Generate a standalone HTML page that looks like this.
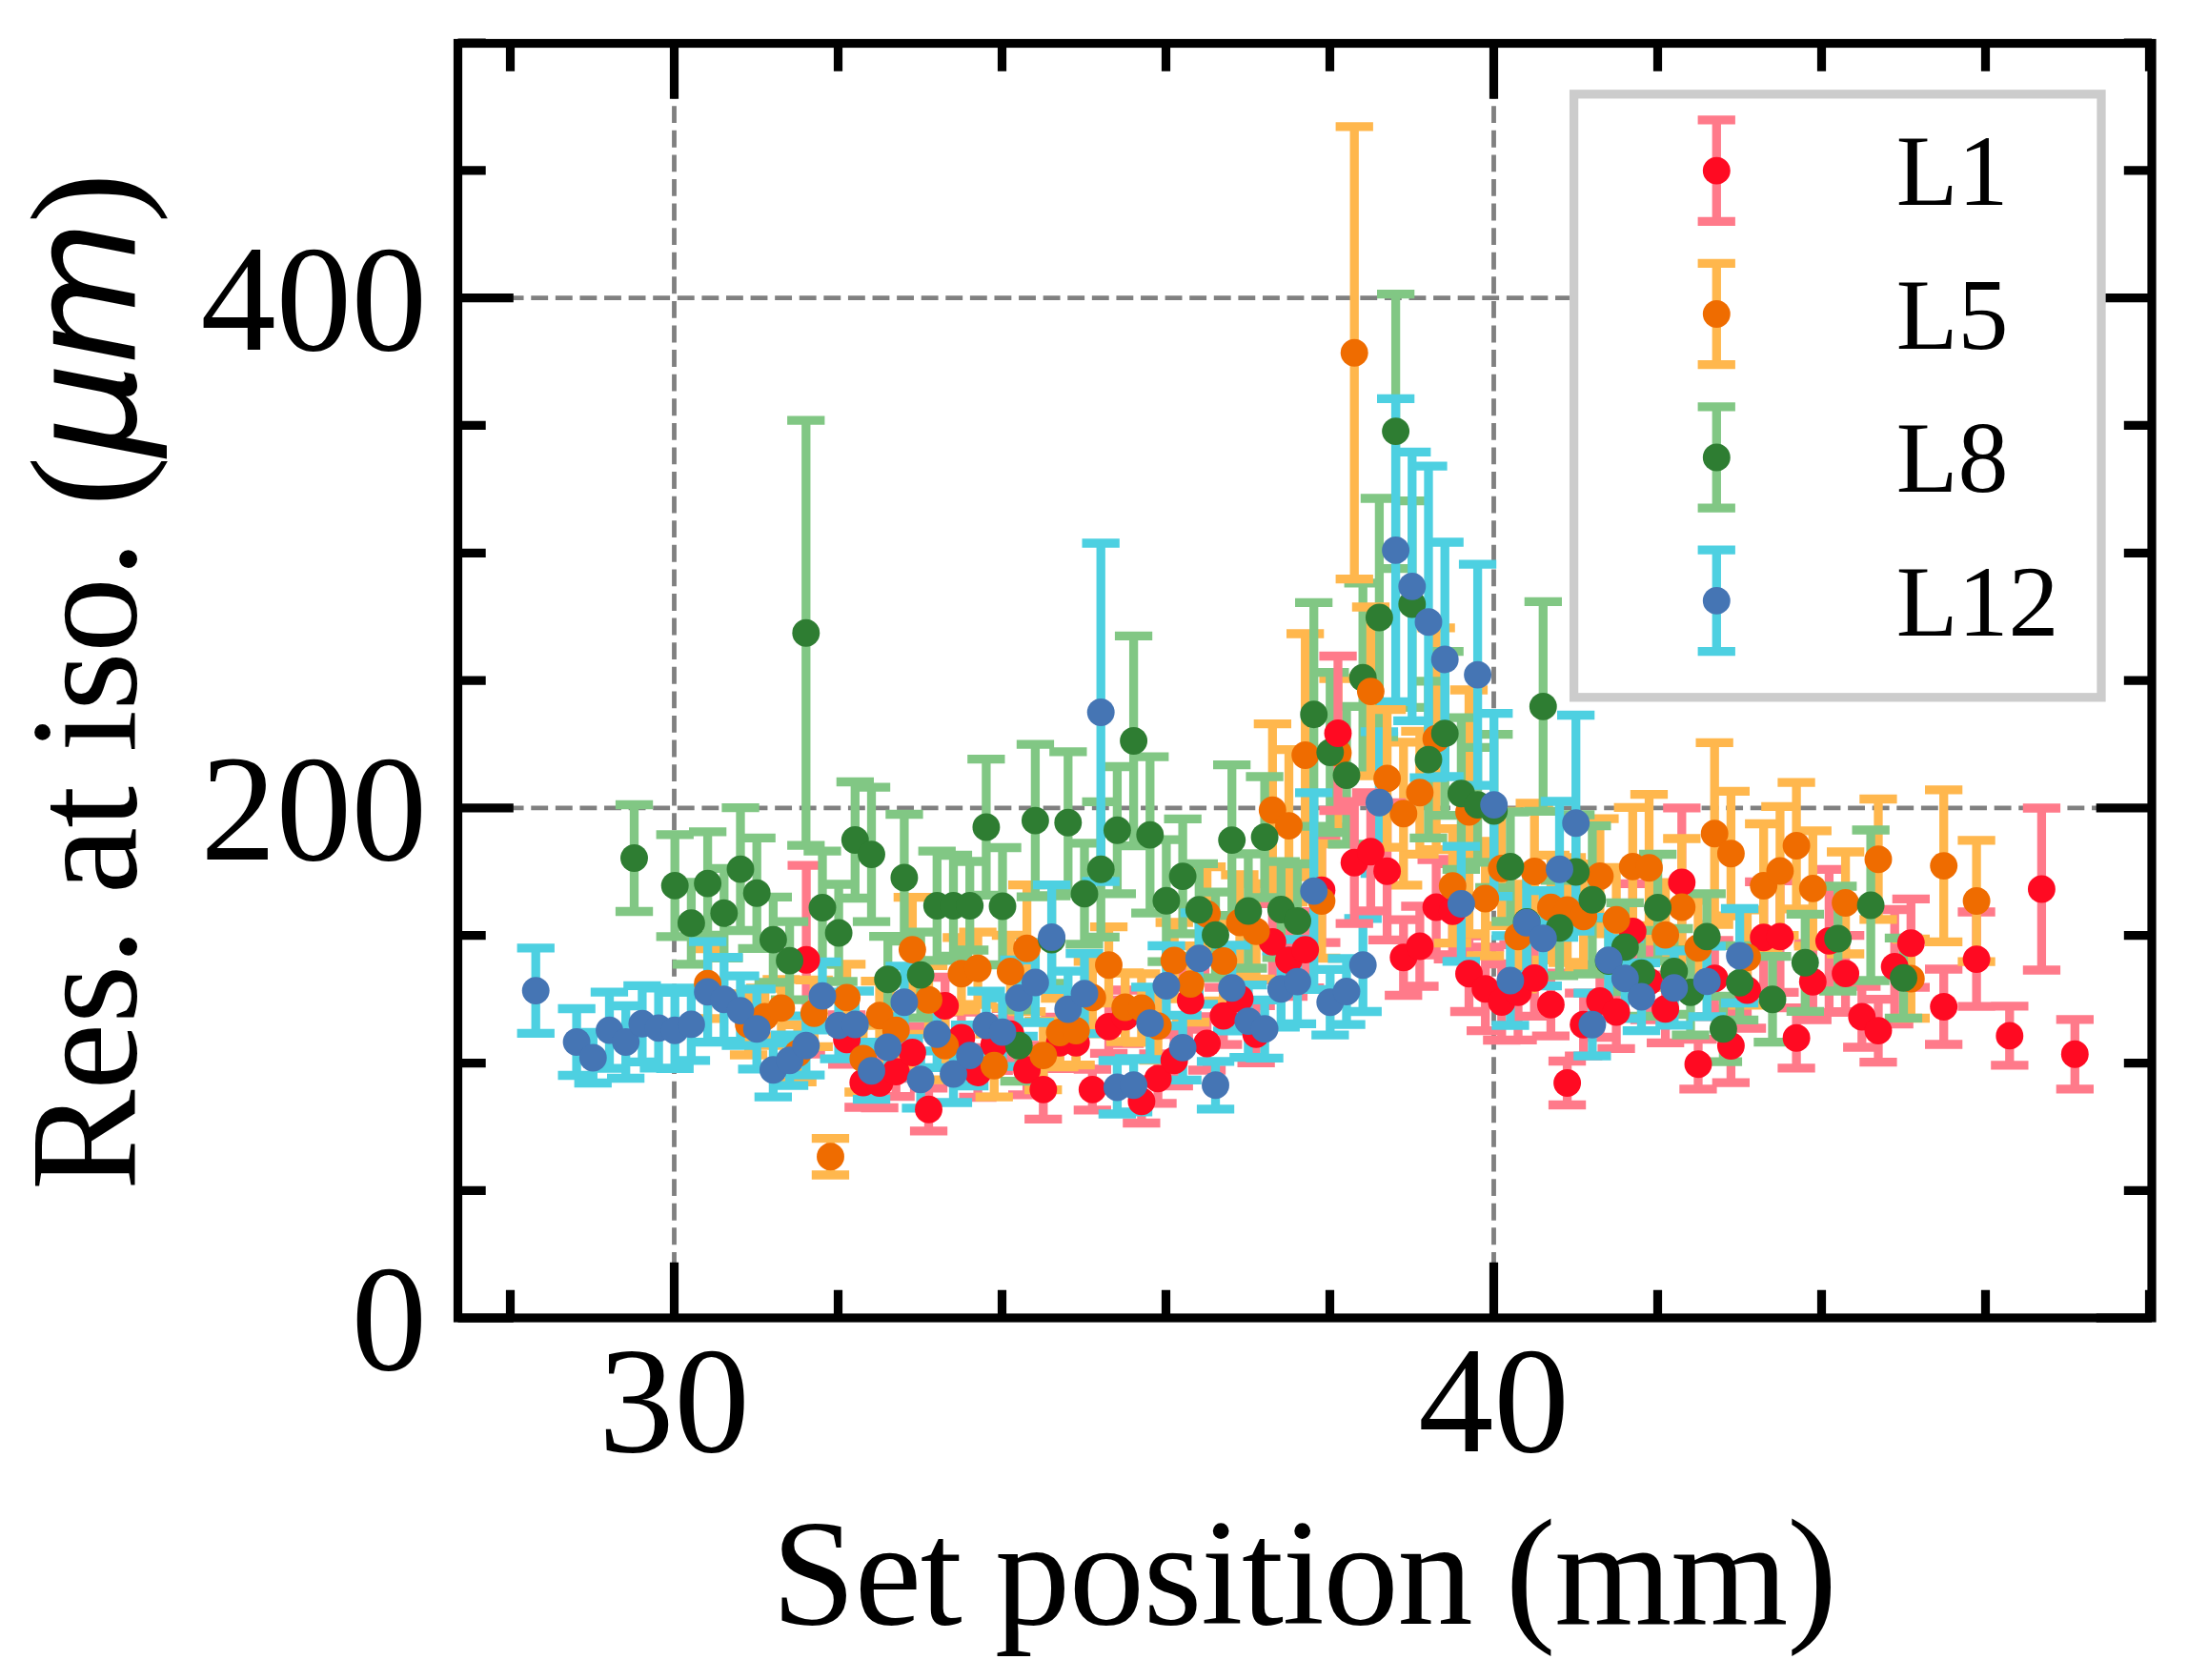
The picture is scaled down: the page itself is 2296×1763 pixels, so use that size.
<!DOCTYPE html>
<html lang="en"><head><meta charset="utf-8"><title>Res. at iso. vs Set position</title>
<style>html,body{margin:0;padding:0;background:#fff}body{width:2296px;height:1763px;overflow:hidden}svg{display:block}text{font-family:"Liberation Serif", "Times New Roman", Times, serif;fill:#000}.mu{font-family:"DejaVu Sans", "Liberation Sans", sans-serif;font-style:italic}</style></head><body>
<svg width="2296" height="1763" viewBox="0 0 2296 1763">
<rect width="2296" height="1763" fill="#fff"/>
<g stroke="#808080" stroke-width="4.83" stroke-dasharray="17.87 7.72" fill="none">
<path d="M707.5 1383V45.5"/>
<path d="M1567.5 1383V45.5"/>
<path d="M480.5 847.9H2258"/>
<path d="M480.5 312.6H2258"/>
</g>
<g stroke="#000" stroke-width="9.2" fill="none">
<path d="M535.5 1383v-29.2M535.5 45.5v29.2M707.5 1383v-58.3M707.5 45.5v58.3M879.5 1383v-29.2M879.5 45.5v29.2M1051.5 1383v-29.2M1051.5 45.5v29.2M1223.5 1383v-29.2M1223.5 45.5v29.2M1395.5 1383v-29.2M1395.5 45.5v29.2M1567.5 1383v-58.3M1567.5 45.5v58.3M1739.5 1383v-29.2M1739.5 45.5v29.2M1911.5 1383v-29.2M1911.5 45.5v29.2M2083.5 1383v-29.2M2083.5 45.5v29.2M2255.5 1383v-29.2M2255.5 45.5v29.2M480.5 1383.2h58.3M2258 1383.2h-58.3M480.5 1249.4h29.2M2258 1249.4h-29.2M480.5 1115.6h29.2M2258 1115.6h-29.2M480.5 981.7h29.2M2258 981.7h-29.2M480.5 847.9h58.3M2258 847.9h-58.3M480.5 714.1h29.2M2258 714.1h-29.2M480.5 580.3h29.2M2258 580.3h-29.2M480.5 446.4h29.2M2258 446.4h-29.2M480.5 312.6h58.3M2258 312.6h-58.3M480.5 178.8h29.2M2258 178.8h-29.2M480.5 45h29.2M2258 45h-29.2"/>
</g>
<path id="eb-L1" d="M846.1 908.2V1106.2M826.5 908.2h39.3M826.5 1106.2h39.3M888.6 1064.8V1116.8M869 1064.8h39.3M869 1116.8h39.3M905.8 1110V1162M886.2 1110h39.3M886.2 1162h39.3M923 1110.5V1162.5M903.4 1110.5h39.3M903.4 1162.5h39.3M940.2 1098.6V1150.6M920.5 1098.6h39.3M920.5 1150.6h39.3M957.4 1077.5V1131.5M937.7 1077.5h39.3M937.7 1131.5h39.3M974.5 1141.8V1186.8M954.9 1141.8h39.3M954.9 1186.8h39.3M991.7 1025.5V1085.5M972.1 1025.5h39.3M972.1 1085.5h39.3M1008.9 1062V1116M989.2 1062h39.3M989.2 1116h39.3M1026.1 1099.5V1151.5M1006.4 1099.5h39.3M1006.4 1151.5h39.3M1043.3 1069.3V1123.3M1023.6 1069.3h39.3M1023.6 1123.3h39.3M1060.4 1058.3V1112.3M1040.8 1058.3h39.3M1040.8 1112.3h39.3M1077.6 1096.8V1148.8M1058 1096.8h39.3M1058 1148.8h39.3M1094.8 1112.4V1174.4M1075.1 1112.4h39.3M1075.1 1174.4h39.3M1112 1067.4V1121.4M1092.3 1067.4h39.3M1092.3 1121.4h39.3M1129.2 1067.4V1121.4M1109.5 1067.4h39.3M1109.5 1121.4h39.3M1146.3 1122V1164.8M1126.7 1122h39.3M1126.7 1164.8h39.3M1163.5 1049.4V1105.4M1143.9 1049.4h39.3M1143.9 1105.4h39.3M1180.7 1039V1095M1161 1039h39.3M1161 1095h39.3M1197.9 1132.9V1178.5M1178.2 1132.9h39.3M1178.2 1178.5h39.3M1215.1 1105.9V1157.9M1195.4 1105.9h39.3M1195.4 1157.9h39.3M1232.2 1085.7V1139.7M1212.6 1085.7h39.3M1212.6 1139.7h39.3M1249.4 1020V1080M1229.8 1020h39.3M1229.8 1080h39.3M1266.6 1067V1123M1246.9 1067h39.3M1246.9 1123h39.3M1283.8 1036.1V1096.1M1264.1 1036.1h39.3M1264.1 1096.1h39.3M1301 1016V1080M1281.3 1016h39.3M1281.3 1080h39.3M1318.1 1055.3V1115.3M1298.5 1055.3h39.3M1298.5 1115.3h39.3M1335.3 948.4V1028.4M1315.7 948.4h39.3M1315.7 1028.4h39.3M1352.5 969.6V1045.6M1332.8 969.6h39.3M1332.8 1045.6h39.3M1369.7 956.6V1036.6M1350 956.6h39.3M1350 1036.6h39.3M1386.9 879.2V989.2M1367.2 879.2h39.3M1367.2 989.2h39.3M1472.8 965.1V1044.5M1453.1 965.1h39.3M1453.1 1044.5h39.3M1489.9 951V1035M1470.3 951h39.3M1470.3 1035h39.3M1507.1 902V1002M1487.5 902h39.3M1487.5 1002h39.3M1524.3 906.4V1006.4M1504.6 906.4h39.3M1504.6 1006.4h39.3M1541.5 982.1V1061.5M1521.8 982.1h39.3M1521.8 1061.5h39.3M1558.7 994V1081.6M1539 994h39.3M1539 1081.6h39.3M1575.8 1011.5V1091.5M1556.2 1011.5h39.3M1556.2 1091.5h39.3M1593 991.4V1091.4M1573.4 991.4h39.3M1573.4 1091.4h39.3M1610.2 986.4V1066.4M1590.5 986.4h39.3M1590.5 1066.4h39.3M1627.4 1021.2V1087.2M1607.7 1021.2h39.3M1607.7 1087.2h39.3M1644.6 1113.5V1159.5M1624.9 1113.5h39.3M1624.9 1159.5h39.3M1661.7 1042.2V1108.2M1642.1 1042.2h39.3M1642.1 1108.2h39.3M1678.9 1012.5V1088.5M1659.3 1012.5h39.3M1659.3 1088.5h39.3M1696.1 1023.6V1100.4M1676.4 1023.6h39.3M1676.4 1100.4h39.3M1713.3 927.4V1027.4M1693.6 927.4h39.3M1693.6 1027.4h39.3M1730.5 990V1070M1710.8 990h39.3M1710.8 1070h39.3M1747.6 1023.2V1094.4M1728 1023.2h39.3M1728 1094.4h39.3M1764.8 847.9V1003.9M1745.2 847.9h39.3M1745.2 1003.9h39.3M1782 1090.6V1142.8M1762.3 1090.6h39.3M1762.3 1142.8h39.3M1799.2 986.8V1066.8M1779.5 986.8h39.3M1779.5 1066.8h39.3M1816.4 1058.9V1136.1M1796.7 1058.9h39.3M1796.7 1136.1h39.3M1833.5 999V1079M1813.9 999h39.3M1813.9 1079h39.3M1850.7 925.3V1042.3M1831.1 925.3h39.3M1831.1 1042.3h39.3M1867.9 924.4V1041.4M1848.2 924.4h39.3M1848.2 1041.4h39.3M1885.1 1057.7V1120.9M1865.4 1057.7h39.3M1865.4 1120.9h39.3M1902.3 990.2V1070.2M1882.6 990.2h39.3M1882.6 1070.2h39.3M1919.4 912.4V1062.4M1899.8 912.4h39.3M1899.8 1062.4h39.3M1936.6 981.6V1061.6M1917 981.6h39.3M1917 1061.6h39.3M1953.8 1035V1099M1934.1 1035h39.3M1934.1 1099h39.3M1971 1048.6V1114.6M1951.3 1048.6h39.3M1951.3 1114.6h39.3M1988.2 954.5V1074.5M1968.5 954.5h39.3M1968.5 1074.5h39.3M2005.3 943.3V1036.1M1985.7 943.3h39.3M1985.7 1036.1h39.3M2039.7 1017V1096M2020 1017h39.3M2020 1096h39.3M2074.1 957V1056.2M2054.4 957h39.3M2054.4 1056.2h39.3M2108.8 1055.9V1117.9M2089.2 1055.9h39.3M2089.2 1117.9h39.3M2142.4 848V1018M2122.8 848h39.3M2122.8 1018h39.3M2177.3 1069.8V1142.8M2157.7 1069.8h39.3M2157.7 1142.8h39.3" stroke="#ff7a8a" stroke-width="9.3" fill="none"/>
<path id="eb-L5" d="M742.6 995.7V1068.9M723 995.7h39.3M723 1068.9h39.3M785.6 1043V1107M765.9 1043h39.3M765.9 1107h39.3M802.7 1037V1097M783.1 1037h39.3M783.1 1097h39.3M819.9 1027.9V1087.9M800.3 1027.9h39.3M800.3 1087.9h39.3M837.1 1075.4V1135.4M817.5 1075.4h39.3M817.5 1135.4h39.3M854.3 1028.3V1098.3M834.6 1028.3h39.3M834.6 1098.3h39.3M871.5 1194.6V1233M851.8 1194.6h39.3M851.8 1233h39.3M888.6 1011.9V1081.9M869 1011.9h39.3M869 1081.9h39.3M905.8 1076V1146M886.2 1076h39.3M886.2 1146h39.3M923 1029.7V1101.7M903.4 1029.7h39.3M903.4 1101.7h39.3M940.2 1045.1V1117.1M920.5 1045.1h39.3M920.5 1117.1h39.3M957.4 941.6V1051.6M937.7 941.6h39.3M937.7 1051.6h39.3M974.5 1013.3V1085.3M954.9 1013.3h39.3M954.9 1085.3h39.3M991.7 1061.2V1133.2M972.1 1061.2h39.3M972.1 1133.2h39.3M1008.9 983.8V1059.8M989.2 983.8h39.3M989.2 1059.8h39.3M1026.1 978.2V1054.2M1006.4 978.2h39.3M1006.4 1054.2h39.3M1043.3 1085.2V1151.2M1023.6 1085.2h39.3M1023.6 1151.2h39.3M1060.4 981.5V1057.5M1040.8 981.5h39.3M1040.8 1057.5h39.3M1077.6 928.7V1061.7M1058 928.7h39.3M1058 1061.7h39.3M1094.8 1071.6V1143.6M1075.1 1071.6h39.3M1075.1 1143.6h39.3M1112 1047.5V1119.5M1092.3 1047.5h39.3M1092.3 1119.5h39.3M1129.2 1045.6V1117.6M1109.5 1045.6h39.3M1109.5 1117.6h39.3M1146.3 1008.9V1084.9M1126.7 1008.9h39.3M1126.7 1084.9h39.3M1163.5 972.7V1052.7M1143.9 972.7h39.3M1143.9 1052.7h39.3M1180.7 1021V1093M1161 1021h39.3M1161 1093h39.3M1197.9 1021.9V1093.9M1178.2 1021.9h39.3M1178.2 1093.9h39.3M1215.1 1040.7V1112.7M1195.4 1040.7h39.3M1195.4 1112.7h39.3M1232.2 968V1048M1212.6 968h39.3M1212.6 1048h39.3M1249.4 992.6V1072.6M1229.8 992.6h39.3M1229.8 1072.6h39.3M1266.6 909.6V1008.6M1246.9 909.6h39.3M1246.9 1008.6h39.3M1283.8 966.5V1050.5M1264.1 966.5h39.3M1264.1 1050.5h39.3M1301 918V1018M1281.3 918h39.3M1281.3 1018h39.3M1318.1 927.4V1027.4M1298.5 927.4h39.3M1298.5 1027.4h39.3M1335.3 759.6V940.6M1315.7 759.6h39.3M1315.7 940.6h39.3M1352.5 786.6V946.6M1332.8 786.6h39.3M1332.8 946.6h39.3M1369.7 665V920M1350 665h39.3M1350 920h39.3M1386.9 885.5V1005.5M1367.2 885.5h39.3M1367.2 1005.5h39.3M1404 712V868M1384.4 712h39.3M1384.4 868h39.3M1472.8 778.8V928.8M1453.1 778.8h39.3M1453.1 928.8h39.3M1489.9 767.3V896.3M1470.3 767.3h39.3M1470.3 896.3h39.3M1507.1 658.8V891.6M1487.5 658.8h39.3M1487.5 891.6h39.3M1524.3 869.7V989.7M1504.6 869.7h39.3M1504.6 989.7h39.3M1541.5 724V980M1521.8 724h39.3M1521.8 980h39.3M1558.7 883V1003M1539 883h39.3M1539 1003h39.3M1575.8 851.4V971.4M1556.2 851.4h39.3M1556.2 971.4h39.3M1593 927.9V1037.9M1573.4 927.9h39.3M1573.4 1037.9h39.3M1610.2 842.8V986.2M1590.5 842.8h39.3M1590.5 986.2h39.3M1627.4 897.3V1007.3M1607.7 897.3h39.3M1607.7 1007.3h39.3M1644.6 900V1010M1624.9 900h39.3M1624.9 1010h39.3M1661.7 906.7V1016.7M1642.1 906.7h39.3M1642.1 1016.7h39.3M1678.9 859.2V979.8M1659.3 859.2h39.3M1659.3 979.8h39.3M1696.1 910.3V1020.3M1676.4 910.3h39.3M1676.4 1020.3h39.3M1713.3 847.4V971.4M1693.6 847.4h39.3M1693.6 971.4h39.3M1730.5 833.7V987.7M1710.8 833.7h39.3M1710.8 987.7h39.3M1747.6 926.1V1036.1M1728 926.1h39.3M1728 1036.1h39.3M1764.8 880V1024M1745.2 880h39.3M1745.2 1024h39.3M1782 944.8V1044.8M1762.3 944.8h39.3M1762.3 1044.8h39.3M1799.2 779.3V970.1M1779.5 779.3h39.3M1779.5 970.1h39.3M1816.4 830.3V961.1M1796.7 830.3h39.3M1796.7 961.1h39.3M1833.5 954.8V1054.8M1813.9 954.8h39.3M1813.9 1054.8h39.3M1850.7 864.5V994.5M1831.1 864.5h39.3M1831.1 994.5h39.3M1867.9 846.4V981.6M1848.2 846.4h39.3M1848.2 981.6h39.3M1885.1 821.1V953.9M1865.4 821.1h39.3M1865.4 953.9h39.3M1902.3 871.9V992.9M1882.6 871.9h39.3M1882.6 992.9h39.3M1936.6 894V1001M1917 894h39.3M1917 1001h39.3M1971 838.5V964.9M1951.3 838.5h39.3M1951.3 964.9h39.3M2005.3 985.5V1068.5M1985.7 985.5h39.3M1985.7 1068.5h39.3M2039.7 828.8V988.4M2020 828.8h39.3M2020 988.4h39.3M2074.1 881.9V1009.1M2054.4 881.9h39.3M2054.4 1009.1h39.3" stroke="#ffb74d" stroke-width="9.3" fill="none"/>
<path id="eb-L8" d="M665.5 844.5V956.5M645.9 844.5h39.3M645.9 956.5h39.3M708.2 875.9V982.9M688.6 875.9h39.3M688.6 982.9h39.3M725.4 925.8V1011.8M705.8 925.8h39.3M705.8 1011.8h39.3M742.6 872.8V981.4M723 872.8h39.3M723 981.4h39.3M759.8 911.3V1005.3M740.2 911.3h39.3M740.2 1005.3h39.3M777 847.7V976.5M757.4 847.7h39.3M757.4 976.5h39.3M794.2 879.3V995.3M774.5 879.3h39.3M774.5 995.3h39.3M811.4 941.3V1030.9M791.7 941.3h39.3M791.7 1030.9h39.3M828.6 967.1V1049.1M808.9 967.1h39.3M808.9 1049.1h39.3M845.8 441.2V887.2M826.1 441.2h39.3M826.1 887.2h39.3M863 893.1V1011.9M843.3 893.1h39.3M843.3 1011.9h39.3M880.1 928V1030M860.5 928h39.3M860.5 1030h39.3M897.3 820.5V942.5M877.7 820.5h39.3M877.7 942.5h39.3M914.5 826.1V967.1M894.9 826.1h39.3M894.9 967.1h39.3M931.7 982.7V1072.7M912.1 982.7h39.3M912.1 1072.7h39.3M948.9 854.5V987.5M929.3 854.5h39.3M929.3 987.5h39.3M966.1 978.1V1068.1M946.4 978.1h39.3M946.4 1068.1h39.3M983.3 893.1V1007.9M963.6 893.1h39.3M963.6 1007.9h39.3M1000.5 897.5V1003.5M980.8 897.5h39.3M980.8 1003.5h39.3M1017.7 904V997M998 904h39.3M998 997h39.3M1034.9 796.7V939.3M1015.2 796.7h39.3M1015.2 939.3h39.3M1052 889.5V1012.5M1032.4 889.5h39.3M1032.4 1012.5h39.3M1069.2 1059.8V1134.6M1049.6 1059.8h39.3M1049.6 1134.6h39.3M1086.4 781.1V941.1M1066.8 781.1h39.3M1066.8 941.1h39.3M1103.6 940V1032M1084 940h39.3M1084 1032h39.3M1120.8 788.9V937.7M1101.2 788.9h39.3M1101.2 937.7h39.3M1138 884.9V990.9M1118.3 884.9h39.3M1118.3 990.9h39.3M1155.2 841.3V983.3M1135.5 841.3h39.3M1135.5 983.3h39.3M1172.4 804.5V937.9M1152.7 804.5h39.3M1152.7 937.9h39.3M1189.6 667.3V887.7M1169.9 667.3h39.3M1169.9 887.7h39.3M1206.8 794.1V958.1M1187.1 794.1h39.3M1187.1 958.1h39.3M1223.9 881.2V1009.2M1204.3 881.2h39.3M1204.3 1009.2h39.3M1241.1 859.3V979.9M1221.5 859.3h39.3M1221.5 979.9h39.3M1258.3 906.3V1003.3M1238.7 906.3h39.3M1238.7 1003.3h39.3M1275.5 936.1V1026.1M1255.9 936.1h39.3M1255.9 1026.1h39.3M1292.7 802.6V960.6M1273 802.6h39.3M1273 960.6h39.3M1309.9 896V1016M1290.2 896h39.3M1290.2 1016h39.3M1327.1 815V942M1307.4 815h39.3M1307.4 942h39.3M1344.3 904.1V1004.9M1324.6 904.1h39.3M1324.6 1004.9h39.3M1361.5 906.5V1026.5M1341.8 906.5h39.3M1341.8 1026.5h39.3M1378.7 632.3V867.1M1359 632.3h39.3M1359 867.1h39.3M1395.8 705.6V873.6M1376.2 705.6h39.3M1376.2 873.6h39.3M1413 741.3V885.9M1393.4 741.3h39.3M1393.4 885.9h39.3M1430.2 611.9V810.5M1410.6 611.9h39.3M1410.6 810.5h39.3M1447.4 523V773M1427.8 523h39.3M1427.8 773h39.3M1464.6 308.6V596.6M1445 308.6h39.3M1445 596.6h39.3M1481.8 525.6V742.4M1462.1 525.6h39.3M1462.1 742.4h39.3M1499 714.8V879.4M1479.3 714.8h39.3M1479.3 879.4h39.3M1516.2 683.7V855.7M1496.5 683.7h39.3M1496.5 855.7h39.3M1533.4 753.2V912.4M1513.7 753.2h39.3M1513.7 912.4h39.3M1550.6 784.3V904.9M1530.9 784.3h39.3M1530.9 904.9h39.3M1567.7 770.6V931.4M1548.1 770.6h39.3M1548.1 931.4h39.3M1584.9 852V967M1565.3 852h39.3M1565.3 967h39.3M1602.1 912.5V1022.5M1582.5 912.5h39.3M1582.5 1022.5h39.3M1619.3 631.4V851.4M1599.7 631.4h39.3M1599.7 851.4h39.3M1636.5 923.8V1023.8M1616.8 923.8h39.3M1616.8 1023.8h39.3M1653.7 855V975M1634 855h39.3M1634 975h39.3M1670.9 866.6V1022M1651.2 866.6h39.3M1651.2 1022h39.3M1688.1 963.5V1053.5M1668.4 963.5h39.3M1668.4 1053.5h39.3M1705.3 947.3V1040.5M1685.6 947.3h39.3M1685.6 1040.5h39.3M1722.5 976.3V1066.3M1702.8 976.3h39.3M1702.8 1066.3h39.3M1739.6 896.5V1008.5M1720 896.5h39.3M1720 1008.5h39.3M1756.8 974.5V1064.5M1737.2 974.5h39.3M1737.2 1064.5h39.3M1774 996.6V1086.2M1754.4 996.6h39.3M1754.4 1086.2h39.3M1791.2 937.9V1027.9M1771.6 937.9h39.3M1771.6 1027.9h39.3M1808.4 1045.4V1114.2M1788.8 1045.4h39.3M1788.8 1114.2h39.3M1825.6 992.4V1070.4M1805.9 992.4h39.3M1805.9 1070.4h39.3M1860 1003.7V1093.7M1840.3 1003.7h39.3M1840.3 1093.7h39.3M1894.3 959.3V1061.3M1874.7 959.3h39.3M1874.7 1061.3h39.3M1928.7 930V1040M1909.1 930h39.3M1909.1 1040h39.3M1963.1 871V1029M1943.5 871h39.3M1943.5 1029h39.3M1997.5 984.3V1068.3M1977.8 984.3h39.3M1977.8 1068.3h39.3" stroke="#81c784" stroke-width="9.3" fill="none"/>
<path id="eb-L12" d="M562.2 994.9V1084.3M542.6 994.9h39.3M542.6 1084.3h39.3M605.1 1058.5V1128.5M585.5 1058.5h39.3M585.5 1128.5h39.3M622.3 1083.5V1136.5M602.6 1083.5h39.3M602.6 1136.5h39.3M639.5 1041.1V1121.1M619.8 1041.1h39.3M619.8 1121.1h39.3M656.7 1055.5V1131.5M637 1055.5h39.3M637 1131.5h39.3M673.9 1034.3V1114.3M654.2 1034.3h39.3M654.2 1114.3h39.3M691.1 1036.9V1120.9M671.4 1036.9h39.3M671.4 1120.9h39.3M708.2 1041.3V1121.3M688.6 1041.3h39.3M688.6 1121.3h39.3M725.4 1036.9V1112.9M705.8 1036.9h39.3M705.8 1112.9h39.3M742.6 988.1V1093.7M723 988.1h39.3M723 1093.7h39.3M759.8 1004.7V1092.7M740.2 1004.7h39.3M740.2 1092.7h39.3M777 1024.1V1097.1M757.4 1024.1h39.3M757.4 1097.1h39.3M794.2 1037.8V1121.8M774.5 1037.8h39.3M774.5 1121.8h39.3M811.4 1094.5V1151.1M791.7 1094.5h39.3M791.7 1151.1h39.3M828.6 1086.2V1139.2M808.9 1086.2h39.3M808.9 1139.2h39.3M845.8 1066.2V1128.2M826.1 1066.2h39.3M826.1 1128.2h39.3M863 1009.4V1080.8M843.3 1009.4h39.3M843.3 1080.8h39.3M880.1 1041.1V1111.1M860.5 1041.1h39.3M860.5 1111.1h39.3M897.3 1040V1110M877.7 1040h39.3M877.7 1110h39.3M914.5 1093.7V1153.7M894.9 1093.7h39.3M894.9 1153.7h39.3M931.7 1067V1131M912.1 1067h39.3M912.1 1131h39.3M948.9 1013.8V1089.8M929.3 1013.8h39.3M929.3 1089.8h39.3M966.1 1102.8V1162.8M946.4 1102.8h39.3M946.4 1162.8h39.3M983.3 1050.3V1120.3M963.6 1050.3h39.3M963.6 1120.3h39.3M1000.5 1097V1157M980.8 1097h39.3M980.8 1157h39.3M1017.7 1075.6V1139.6M998 1075.6h39.3M998 1139.6h39.3M1034.9 1040.1V1112.1M1015.2 1040.1h39.3M1015.2 1112.1h39.3M1052 1047.1V1119.1M1032.4 1047.1h39.3M1032.4 1119.1h39.3M1069.2 1007.4V1087.4M1049.6 1007.4h39.3M1049.6 1087.4h39.3M1086.4 989V1073M1066.8 989h39.3M1066.8 1073h39.3M1103.6 928.7V1038.3M1084 928.7h39.3M1084 1038.3h39.3M1120.8 1019.1V1099.1M1101.2 1019.1h39.3M1101.2 1099.1h39.3M1138 1000.7V1084.7M1118.3 1000.7h39.3M1118.3 1084.7h39.3M1155.2 570V925M1135.5 570h39.3M1135.5 925h39.3M1172.4 1113V1169M1152.7 1113h39.3M1152.7 1169h39.3M1189.6 1110.8V1166.8M1169.9 1110.8h39.3M1169.9 1166.8h39.3M1206.8 1035.8V1111.8M1187.1 1035.8h39.3M1187.1 1111.8h39.3M1223.9 992.5V1076.5M1204.3 992.5h39.3M1204.3 1076.5h39.3M1241.1 1065.4V1133.4M1221.5 1065.4h39.3M1221.5 1133.4h39.3M1258.3 957.8V1053.8M1238.7 957.8h39.3M1238.7 1053.8h39.3M1275.5 1113.8V1163.8M1255.9 1113.8h39.3M1255.9 1163.8h39.3M1292.7 991.8V1081.8M1273 991.8h39.3M1273 1081.8h39.3M1309.9 1033.6V1109.6M1290.2 1033.6h39.3M1290.2 1109.6h39.3M1327.1 1049.3V1110.3M1307.4 1049.3h39.3M1307.4 1110.3h39.3M1344.3 997.8V1077.8M1324.6 997.8h39.3M1324.6 1077.8h39.3M1361.5 985.9V1074.3M1341.8 985.9h39.3M1341.8 1074.3h39.3M1378.7 831.8V1038.4M1359 831.8h39.3M1359 1038.4h39.3M1395.8 1017.4V1086.2M1376.2 1017.4h39.3M1376.2 1086.2h39.3M1413 1005.8V1075.2M1393.4 1005.8h39.3M1393.4 1075.2h39.3M1430.2 963.9V1061.5M1410.6 963.9h39.3M1410.6 1061.5h39.3M1447.4 767.9V916.7M1427.8 767.9h39.3M1427.8 916.7h39.3M1464.6 418.4V736.4M1445 418.4h39.3M1445 736.4h39.3M1481.8 474.4V756.4M1462.1 474.4h39.3M1462.1 756.4h39.3M1499 489.2V816.2M1479.3 489.2h39.3M1479.3 816.2h39.3M1516.2 569V815M1496.5 569h39.3M1496.5 815h39.3M1533.4 888.2V1008.8M1513.7 888.2h39.3M1513.7 1008.8h39.3M1550.6 592.1V824.1M1530.9 592.1h39.3M1530.9 824.1h39.3M1567.7 748.6V940.6M1548.1 748.6h39.3M1548.1 940.6h39.3M1584.9 982V1076M1565.3 982h39.3M1565.3 1076h39.3M1602.1 913.3V1023.3M1582.5 913.3h39.3M1582.5 1023.3h39.3M1619.3 934.7V1034.7M1599.7 934.7h39.3M1599.7 1034.7h39.3M1636.5 841V983.6M1616.8 841h39.3M1616.8 983.6h39.3M1653.7 750.5V977.1M1634 750.5h39.3M1634 977.1h39.3M1670.9 1042.2V1108.2M1651.2 1042.2h39.3M1651.2 1108.2h39.3M1688.1 962.6V1052.6M1668.4 962.6h39.3M1668.4 1052.6h39.3M1705.3 984.8V1068.8M1685.6 984.8h39.3M1685.6 1068.8h39.3M1722.5 1010.4V1081.6M1702.8 1010.4h39.3M1702.8 1081.6h39.3M1756.8 997.8V1075.8M1737.2 997.8h39.3M1737.2 1075.8h39.3M1791.2 992.9V1066.9M1771.6 992.9h39.3M1771.6 1066.9h39.3M1825.6 953.5V1052.5M1805.9 953.5h39.3M1805.9 1052.5h39.3" stroke="#4dd0e1" stroke-width="9.3" fill="none"/>
<path id="eb2-L1" d="M1404 688.5V850.5M1384.4 688.5h39.3M1384.4 850.5h39.3M1421.2 841.2V969.2M1401.6 841.2h39.3M1401.6 969.2h39.3M1438.4 831.8V955.8M1418.8 831.8h39.3M1418.8 955.8h39.3M1455.6 842.3V986.3M1435.9 842.3h39.3M1435.9 986.3h39.3" stroke="#ff7a8a" stroke-width="9.3" fill="none"/>
<path id="eb2-L5" d="M1421.2 132.8V607.6M1401.6 132.8h39.3M1401.6 607.6h39.3M1438.4 637V814.2M1418.8 637h39.3M1418.8 814.2h39.3M1455.6 744.6V889.2M1435.9 744.6h39.3M1435.9 889.2h39.3" stroke="#ffb74d" stroke-width="9.3" fill="none"/>
<g id="mk-L1" fill="#ff0a22">
<circle cx="846.1" cy="1007.2" r="14.45"/><circle cx="888.6" cy="1090.8" r="14.45"/><circle cx="905.8" cy="1136" r="14.45"/><circle cx="923" cy="1136.5" r="14.45"/><circle cx="940.2" cy="1124.6" r="14.45"/><circle cx="957.4" cy="1104.5" r="14.45"/><circle cx="974.5" cy="1164.3" r="14.45"/><circle cx="991.7" cy="1055.5" r="14.45"/><circle cx="1008.9" cy="1089" r="14.45"/><circle cx="1026.1" cy="1125.5" r="14.45"/><circle cx="1043.3" cy="1096.3" r="14.45"/><circle cx="1060.4" cy="1085.3" r="14.45"/><circle cx="1077.6" cy="1122.8" r="14.45"/><circle cx="1094.8" cy="1143.4" r="14.45"/><circle cx="1112" cy="1094.4" r="14.45"/><circle cx="1129.2" cy="1094.4" r="14.45"/><circle cx="1146.3" cy="1143.4" r="14.45"/><circle cx="1163.5" cy="1077.4" r="14.45"/><circle cx="1180.7" cy="1067" r="14.45"/><circle cx="1197.9" cy="1155.7" r="14.45"/><circle cx="1215.1" cy="1131.9" r="14.45"/><circle cx="1232.2" cy="1112.7" r="14.45"/><circle cx="1249.4" cy="1050" r="14.45"/><circle cx="1266.6" cy="1095" r="14.45"/><circle cx="1283.8" cy="1066.1" r="14.45"/><circle cx="1301" cy="1048" r="14.45"/><circle cx="1318.1" cy="1085.3" r="14.45"/><circle cx="1335.3" cy="988.4" r="14.45"/><circle cx="1352.5" cy="1007.6" r="14.45"/><circle cx="1369.7" cy="996.6" r="14.45"/><circle cx="1386.9" cy="934.2" r="14.45"/><circle cx="1421.2" cy="905.2" r="14.45"/><circle cx="1438.4" cy="893.8" r="14.45"/><circle cx="1455.6" cy="914.3" r="14.45"/><circle cx="1472.8" cy="1004.8" r="14.45"/><circle cx="1489.9" cy="993" r="14.45"/><circle cx="1507.1" cy="952" r="14.45"/><circle cx="1524.3" cy="956.4" r="14.45"/><circle cx="1541.5" cy="1021.8" r="14.45"/><circle cx="1558.7" cy="1037.8" r="14.45"/><circle cx="1575.8" cy="1051.5" r="14.45"/><circle cx="1593" cy="1041.4" r="14.45"/><circle cx="1610.2" cy="1026.4" r="14.45"/><circle cx="1627.4" cy="1054.2" r="14.45"/><circle cx="1644.6" cy="1136.5" r="14.45"/><circle cx="1661.7" cy="1075.2" r="14.45"/><circle cx="1678.9" cy="1050.5" r="14.45"/><circle cx="1696.1" cy="1062" r="14.45"/><circle cx="1713.3" cy="977.4" r="14.45"/><circle cx="1730.5" cy="1030" r="14.45"/><circle cx="1747.6" cy="1058.8" r="14.45"/><circle cx="1764.8" cy="925.9" r="14.45"/><circle cx="1782" cy="1116.7" r="14.45"/><circle cx="1799.2" cy="1026.8" r="14.45"/><circle cx="1816.4" cy="1097.5" r="14.45"/><circle cx="1833.5" cy="1039" r="14.45"/><circle cx="1850.7" cy="983.8" r="14.45"/><circle cx="1867.9" cy="982.9" r="14.45"/><circle cx="1885.1" cy="1089.3" r="14.45"/><circle cx="1902.3" cy="1030.2" r="14.45"/><circle cx="1919.4" cy="987.4" r="14.45"/><circle cx="1936.6" cy="1021.6" r="14.45"/><circle cx="1953.8" cy="1067" r="14.45"/><circle cx="1971" cy="1081.6" r="14.45"/><circle cx="1988.2" cy="1014.5" r="14.45"/><circle cx="2005.3" cy="989.7" r="14.45"/><circle cx="2039.7" cy="1056.5" r="14.45"/><circle cx="2074.1" cy="1006.6" r="14.45"/><circle cx="2108.8" cy="1086.9" r="14.45"/><circle cx="2142.4" cy="933" r="14.45"/><circle cx="2177.3" cy="1106.3" r="14.45"/>
</g>
<g id="mk-L5" fill="#ef6c00">
<circle cx="742.6" cy="1032.3" r="14.45"/><circle cx="785.6" cy="1075" r="14.45"/><circle cx="802.7" cy="1067" r="14.45"/><circle cx="819.9" cy="1057.9" r="14.45"/><circle cx="837.1" cy="1105.4" r="14.45"/><circle cx="854.3" cy="1063.3" r="14.45"/><circle cx="871.5" cy="1213.8" r="14.45"/><circle cx="888.6" cy="1046.9" r="14.45"/><circle cx="905.8" cy="1111" r="14.45"/><circle cx="923" cy="1065.7" r="14.45"/><circle cx="940.2" cy="1081.1" r="14.45"/><circle cx="957.4" cy="996.6" r="14.45"/><circle cx="974.5" cy="1049.3" r="14.45"/><circle cx="991.7" cy="1097.2" r="14.45"/><circle cx="1008.9" cy="1021.8" r="14.45"/><circle cx="1026.1" cy="1016.2" r="14.45"/><circle cx="1043.3" cy="1118.2" r="14.45"/><circle cx="1060.4" cy="1019.5" r="14.45"/><circle cx="1077.6" cy="995.2" r="14.45"/><circle cx="1094.8" cy="1107.6" r="14.45"/><circle cx="1112" cy="1083.5" r="14.45"/><circle cx="1129.2" cy="1081.6" r="14.45"/><circle cx="1146.3" cy="1046.9" r="14.45"/><circle cx="1163.5" cy="1012.7" r="14.45"/><circle cx="1180.7" cy="1057" r="14.45"/><circle cx="1197.9" cy="1057.9" r="14.45"/><circle cx="1215.1" cy="1076.7" r="14.45"/><circle cx="1232.2" cy="1008" r="14.45"/><circle cx="1249.4" cy="1032.6" r="14.45"/><circle cx="1266.6" cy="959.1" r="14.45"/><circle cx="1283.8" cy="1008.5" r="14.45"/><circle cx="1301" cy="968" r="14.45"/><circle cx="1318.1" cy="977.4" r="14.45"/><circle cx="1335.3" cy="850.1" r="14.45"/><circle cx="1352.5" cy="866.6" r="14.45"/><circle cx="1369.7" cy="792.5" r="14.45"/><circle cx="1386.9" cy="945.5" r="14.45"/><circle cx="1404" cy="790" r="14.45"/><circle cx="1421.2" cy="370.2" r="14.45"/><circle cx="1455.6" cy="816.9" r="14.45"/><circle cx="1472.8" cy="853.8" r="14.45"/><circle cx="1489.9" cy="831.8" r="14.45"/><circle cx="1507.1" cy="775.2" r="14.45"/><circle cx="1524.3" cy="929.7" r="14.45"/><circle cx="1541.5" cy="852" r="14.45"/><circle cx="1558.7" cy="943" r="14.45"/><circle cx="1575.8" cy="911.4" r="14.45"/><circle cx="1593" cy="982.9" r="14.45"/><circle cx="1610.2" cy="914.5" r="14.45"/><circle cx="1627.4" cy="952.3" r="14.45"/><circle cx="1644.6" cy="955" r="14.45"/><circle cx="1661.7" cy="961.7" r="14.45"/><circle cx="1678.9" cy="919.5" r="14.45"/><circle cx="1696.1" cy="965.3" r="14.45"/><circle cx="1713.3" cy="909.4" r="14.45"/><circle cx="1730.5" cy="910.7" r="14.45"/><circle cx="1747.6" cy="981.1" r="14.45"/><circle cx="1764.8" cy="952" r="14.45"/><circle cx="1782" cy="994.8" r="14.45"/><circle cx="1799.2" cy="874.7" r="14.45"/><circle cx="1816.4" cy="895.7" r="14.45"/><circle cx="1833.5" cy="1004.8" r="14.45"/><circle cx="1850.7" cy="929.5" r="14.45"/><circle cx="1867.9" cy="914" r="14.45"/><circle cx="1885.1" cy="887.5" r="14.45"/><circle cx="1902.3" cy="932.4" r="14.45"/><circle cx="1936.6" cy="947.5" r="14.45"/><circle cx="1971" cy="901.7" r="14.45"/><circle cx="2005.3" cy="1027" r="14.45"/><circle cx="2039.7" cy="908.6" r="14.45"/><circle cx="2074.1" cy="945.5" r="14.45"/>
</g>
<g id="mk-L8" fill="#2e7d32">
<circle cx="665.5" cy="900.5" r="14.45"/><circle cx="708.2" cy="929.4" r="14.45"/><circle cx="725.4" cy="968.8" r="14.45"/><circle cx="742.6" cy="927.1" r="14.45"/><circle cx="759.8" cy="958.3" r="14.45"/><circle cx="777" cy="912.1" r="14.45"/><circle cx="794.2" cy="937.3" r="14.45"/><circle cx="811.4" cy="986.1" r="14.45"/><circle cx="828.6" cy="1008.1" r="14.45"/><circle cx="845.8" cy="664.2" r="14.45"/><circle cx="863" cy="952.5" r="14.45"/><circle cx="880.1" cy="979" r="14.45"/><circle cx="897.3" cy="881.5" r="14.45"/><circle cx="914.5" cy="896.6" r="14.45"/><circle cx="931.7" cy="1027.7" r="14.45"/><circle cx="948.9" cy="921" r="14.45"/><circle cx="966.1" cy="1023.1" r="14.45"/><circle cx="983.3" cy="950.5" r="14.45"/><circle cx="1000.5" cy="950.5" r="14.45"/><circle cx="1017.7" cy="950.5" r="14.45"/><circle cx="1034.9" cy="868" r="14.45"/><circle cx="1052" cy="951" r="14.45"/><circle cx="1069.2" cy="1097.2" r="14.45"/><circle cx="1086.4" cy="861.1" r="14.45"/><circle cx="1103.6" cy="986" r="14.45"/><circle cx="1120.8" cy="863.3" r="14.45"/><circle cx="1138" cy="937.9" r="14.45"/><circle cx="1155.2" cy="912.3" r="14.45"/><circle cx="1172.4" cy="871.2" r="14.45"/><circle cx="1189.6" cy="777.5" r="14.45"/><circle cx="1206.8" cy="876.1" r="14.45"/><circle cx="1223.9" cy="945.2" r="14.45"/><circle cx="1241.1" cy="919.6" r="14.45"/><circle cx="1258.3" cy="954.8" r="14.45"/><circle cx="1275.5" cy="981.1" r="14.45"/><circle cx="1292.7" cy="881.6" r="14.45"/><circle cx="1309.9" cy="956" r="14.45"/><circle cx="1327.1" cy="878.5" r="14.45"/><circle cx="1344.3" cy="954.5" r="14.45"/><circle cx="1361.5" cy="966.5" r="14.45"/><circle cx="1378.7" cy="749.7" r="14.45"/><circle cx="1395.8" cy="789.6" r="14.45"/><circle cx="1413" cy="813.6" r="14.45"/><circle cx="1430.2" cy="711.2" r="14.45"/><circle cx="1447.4" cy="648" r="14.45"/><circle cx="1464.6" cy="452.6" r="14.45"/><circle cx="1481.8" cy="634" r="14.45"/><circle cx="1499" cy="797.1" r="14.45"/><circle cx="1516.2" cy="769.7" r="14.45"/><circle cx="1533.4" cy="832.8" r="14.45"/><circle cx="1550.6" cy="844.6" r="14.45"/><circle cx="1567.7" cy="851" r="14.45"/><circle cx="1584.9" cy="909.5" r="14.45"/><circle cx="1602.1" cy="967.5" r="14.45"/><circle cx="1619.3" cy="741.4" r="14.45"/><circle cx="1636.5" cy="973.8" r="14.45"/><circle cx="1653.7" cy="915" r="14.45"/><circle cx="1670.9" cy="944.3" r="14.45"/><circle cx="1688.1" cy="1008.5" r="14.45"/><circle cx="1705.3" cy="993.9" r="14.45"/><circle cx="1722.5" cy="1021.3" r="14.45"/><circle cx="1739.6" cy="952.5" r="14.45"/><circle cx="1756.8" cy="1019.5" r="14.45"/><circle cx="1774" cy="1041.4" r="14.45"/><circle cx="1791.2" cy="982.9" r="14.45"/><circle cx="1808.4" cy="1079.8" r="14.45"/><circle cx="1825.6" cy="1031.4" r="14.45"/><circle cx="1860" cy="1048.7" r="14.45"/><circle cx="1894.3" cy="1010.3" r="14.45"/><circle cx="1928.7" cy="985" r="14.45"/><circle cx="1963.1" cy="950" r="14.45"/><circle cx="1997.5" cy="1026.3" r="14.45"/>
</g>
<g id="mk2-L1" fill="#ff0a22">
<circle cx="1404" cy="769.5" r="14.45"/>
</g>
<g id="mk2-L5" fill="#ef6c00">
<circle cx="1438.4" cy="725.6" r="14.45"/>
</g>
<g id="mk-L12" fill="#4575b4">
<circle cx="562.2" cy="1039.6" r="14.45"/><circle cx="605.1" cy="1093.5" r="14.45"/><circle cx="622.3" cy="1110" r="14.45"/><circle cx="639.5" cy="1081.1" r="14.45"/><circle cx="656.7" cy="1093.5" r="14.45"/><circle cx="673.9" cy="1074.3" r="14.45"/><circle cx="691.1" cy="1078.9" r="14.45"/><circle cx="708.2" cy="1081.3" r="14.45"/><circle cx="725.4" cy="1074.9" r="14.45"/><circle cx="742.6" cy="1040.9" r="14.45"/><circle cx="759.8" cy="1048.7" r="14.45"/><circle cx="777" cy="1060.6" r="14.45"/><circle cx="794.2" cy="1079.8" r="14.45"/><circle cx="811.4" cy="1122.8" r="14.45"/><circle cx="828.6" cy="1112.7" r="14.45"/><circle cx="845.8" cy="1097.2" r="14.45"/><circle cx="863" cy="1045.1" r="14.45"/><circle cx="880.1" cy="1076.1" r="14.45"/><circle cx="897.3" cy="1075" r="14.45"/><circle cx="914.5" cy="1123.7" r="14.45"/><circle cx="931.7" cy="1099" r="14.45"/><circle cx="948.9" cy="1051.8" r="14.45"/><circle cx="966.1" cy="1132.8" r="14.45"/><circle cx="983.3" cy="1085.3" r="14.45"/><circle cx="1000.5" cy="1127" r="14.45"/><circle cx="1017.7" cy="1107.6" r="14.45"/><circle cx="1034.9" cy="1076.1" r="14.45"/><circle cx="1052" cy="1083.1" r="14.45"/><circle cx="1069.2" cy="1047.4" r="14.45"/><circle cx="1086.4" cy="1031" r="14.45"/><circle cx="1103.6" cy="983.5" r="14.45"/><circle cx="1120.8" cy="1059.1" r="14.45"/><circle cx="1138" cy="1042.7" r="14.45"/><circle cx="1155.2" cy="747.5" r="14.45"/><circle cx="1172.4" cy="1141" r="14.45"/><circle cx="1189.6" cy="1138.8" r="14.45"/><circle cx="1206.8" cy="1073.8" r="14.45"/><circle cx="1223.9" cy="1034.5" r="14.45"/><circle cx="1241.1" cy="1099.4" r="14.45"/><circle cx="1258.3" cy="1005.8" r="14.45"/><circle cx="1275.5" cy="1138.8" r="14.45"/><circle cx="1292.7" cy="1036.8" r="14.45"/><circle cx="1309.9" cy="1071.6" r="14.45"/><circle cx="1327.1" cy="1079.8" r="14.45"/><circle cx="1344.3" cy="1037.8" r="14.45"/><circle cx="1361.5" cy="1030.1" r="14.45"/><circle cx="1378.7" cy="935.1" r="14.45"/><circle cx="1395.8" cy="1051.8" r="14.45"/><circle cx="1413" cy="1040.5" r="14.45"/><circle cx="1430.2" cy="1012.7" r="14.45"/><circle cx="1447.4" cy="842.3" r="14.45"/><circle cx="1464.6" cy="577.4" r="14.45"/><circle cx="1481.8" cy="615.4" r="14.45"/><circle cx="1499" cy="652.7" r="14.45"/><circle cx="1516.2" cy="692" r="14.45"/><circle cx="1533.4" cy="948.5" r="14.45"/><circle cx="1550.6" cy="708.1" r="14.45"/><circle cx="1567.7" cy="844.6" r="14.45"/><circle cx="1584.9" cy="1029" r="14.45"/><circle cx="1602.1" cy="968.3" r="14.45"/><circle cx="1619.3" cy="984.7" r="14.45"/><circle cx="1636.5" cy="912.3" r="14.45"/><circle cx="1653.7" cy="863.8" r="14.45"/><circle cx="1670.9" cy="1075.2" r="14.45"/><circle cx="1688.1" cy="1007.6" r="14.45"/><circle cx="1705.3" cy="1026.8" r="14.45"/><circle cx="1722.5" cy="1046" r="14.45"/><circle cx="1756.8" cy="1036.8" r="14.45"/><circle cx="1791.2" cy="1029.9" r="14.45"/><circle cx="1825.6" cy="1003" r="14.45"/>
</g>
<rect x="480.5" y="45.5" width="1777.5" height="1337.5" fill="none" stroke="#000" stroke-width="9.2"/>
<rect x="1651.6" y="98.8" width="553.4" height="633" fill="#fff" stroke="#ccc" stroke-width="9.3"/>
<path d="M1801.3 125.9V232.3M1781.6 125.9h39.3M1781.6 232.3h39.3" stroke="#ff7a8a" stroke-width="9.3" fill="none"/>
<circle cx="1801.3" cy="179.1" r="14.45" fill="#ff0a22"/>
<text x="1989.8" y="215" font-size="106.0">L1</text>
<path d="M1801.3 276.3V382.7M1781.6 276.3h39.3M1781.6 382.7h39.3" stroke="#ffb74d" stroke-width="9.3" fill="none"/>
<circle cx="1801.3" cy="329.5" r="14.45" fill="#ef6c00"/>
<text x="1989.8" y="365.6" font-size="106.0">L5</text>
<path d="M1801.3 426.8V533.2M1781.6 426.8h39.3M1781.6 533.2h39.3" stroke="#81c784" stroke-width="9.3" fill="none"/>
<circle cx="1801.3" cy="480" r="14.45" fill="#2e7d32"/>
<text x="1989.8" y="516.2" font-size="106.0">L8</text>
<path d="M1801.3 577.2V683.6M1781.6 577.2h39.3M1781.6 683.6h39.3" stroke="#4dd0e1" stroke-width="9.3" fill="none"/>
<circle cx="1801.3" cy="630.4" r="14.45" fill="#4575b4"/>
<text x="1989.8" y="666.8" font-size="106.0">L12</text>
<text x="707.5" y="1523.2" font-size="158.3" text-anchor="middle">30</text>
<text x="1567.5" y="1523.2" font-size="158.3" text-anchor="middle">40</text>
<text x="448" y="1437.2" font-size="158.3" text-anchor="end">0</text>
<text x="448" y="901.9" font-size="158.3" text-anchor="end">200</text>
<text x="448" y="366.6" font-size="158.3" text-anchor="end">400</text>
<text x="1368.3" y="1704" font-size="158.3" text-anchor="middle" letter-spacing="-1.2" word-spacing="-3">Set position (mm)</text>
<text transform="translate(141.8 715.5) rotate(-90)" font-size="158.3" text-anchor="middle" letter-spacing="-0.6" word-spacing="-3">Res. at iso. (<tspan class="mu" font-size="156" letter-spacing="-3">μm</tspan>)</text>
</svg></body></html>
